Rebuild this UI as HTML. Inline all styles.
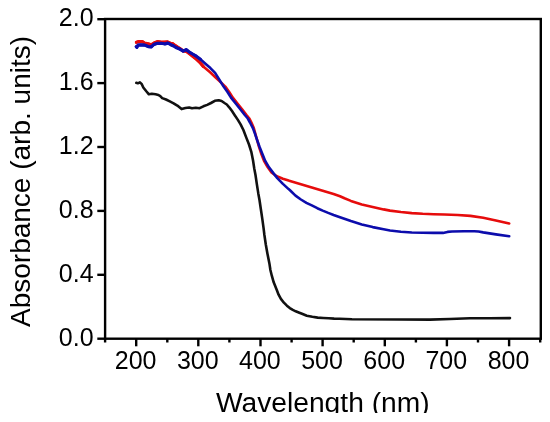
<!DOCTYPE html>
<html><head><meta charset="utf-8"><style>
html,body{margin:0;padding:0;background:#fff;}
body{width:550px;height:422px;overflow:hidden;}
svg{display:block;}
text{font-family:"Liberation Sans",Arial,sans-serif;fill:#000;}
</style></head><body>
<svg width="550" height="422" viewBox="0 0 550 422">
<defs><clipPath id="c"><rect x="0" y="0" width="550" height="413.0"/></clipPath></defs>
<rect width="550" height="422" fill="#fff"/>
<g fill="none" stroke-linejoin="round" stroke-linecap="round" stroke-width="2.6">
<polyline stroke="#111" points="136.3,82.8 137.8,83.3 139.9,82.3 141.8,84.2 143.3,87.5 146.1,91.0 148.9,94.3 151.8,93.8 155.6,94.3 158.4,95.0 160.3,96.2 162.2,98.1 166.0,99.5 169.8,101.4 173.6,103.3 177.3,105.6 181.6,109.1 185.4,108.0 189.2,107.5 192.0,108.2 195.8,107.7 199.6,108.2 203.4,106.3 207.2,104.9 211.0,103.0 214.8,100.8 218.7,100.2 221.6,101.0 224.5,103.0 226.8,104.5 229.2,107.3 232.0,111.1 234.9,115.4 237.7,119.6 240.6,124.4 243.4,130.0 246.3,137.6 249.0,144.5 251.3,151.8 253.0,160.3 254.3,168.8 255.5,175.0 256.8,183.9 258.3,193.4 259.5,200.0 260.9,209.5 262.3,218.9 263.6,228.4 264.4,235.0 265.8,244.5 267.5,253.9 269.4,263.4 270.4,270.0 271.8,275.7 273.7,282.3 276.8,290.0 278.6,294.7 280.9,298.9 283.9,302.7 286.9,305.7 289.8,308.1 292.8,309.9 295.7,311.3 298.7,312.5 302.0,313.8 306.8,315.7 312.3,316.8 317.7,317.6 323.2,318.0 328.6,318.3 334.1,318.6 339.5,318.7 352.0,319.3 400.0,319.5 430.0,319.6 450.0,319.0 470.0,318.3 490.0,318.2 510.0,318.1"/>
<polyline stroke="#e60c0c" points="136.4,42.3 138.7,41.6 142.4,41.6 144.5,43.0 148.2,43.8 151.1,44.8 154.0,43.0 157.6,41.6 161.3,42.2 164.9,42.0 167.6,41.9 170.8,43.4 172.5,43.5 175.0,45.4 177.6,47.1 180.0,48.7 183.2,50.9 186.5,51.4 190.5,54.4 195.5,58.4 200.0,62.6 203.3,66.6 210.4,72.5 215.1,77.0 219.2,80.8 225.3,86.6 229.2,92.0 232.8,97.6 237.3,103.2 242.1,109.2 246.5,115.0 249.4,118.5 251.4,122.5 253.8,128.1 255.5,134.3 257.1,140.0 259.0,146.8 261.4,154.0 264.0,160.9 267.6,167.0 271.5,172.4 274.6,174.8 278.1,176.8 282.9,178.7 288.6,180.6 290.0,181.0 300.9,184.3 311.8,187.5 322.7,190.8 333.6,194.1 340.0,196.3 344.5,198.3 350.9,200.9 361.8,204.4 372.7,206.9 383.6,209.4 390.0,210.6 400.9,212.0 411.8,213.1 422.7,213.8 433.6,214.2 444.5,214.5 457.7,215.0 470.4,215.9 483.2,217.8 495.9,220.4 509.2,223.5"/>
<polyline stroke="#e60c0c" stroke-width="3.2" points="136.4,42.3 138.7,41.6 142.4,41.6 144.5,43.0 148.2,43.8 151.1,44.8 154.0,43.0 157.6,41.6 161.3,42.2 164.9,42.0 167.6,41.9 170.8,43.4 172.5,43.5 175.0,45.4 177.6,47.1 180.0,48.7 183.2,50.9 186.5,51.4 190.5,54.4 195.5,58.4 200.0,62.6 203.3,66.6"/>
<polyline stroke="#0c0cac" points="136.2,46.6 136.9,47.3 138.0,45.1 140.9,44.8 144.5,45.1 148.2,46.6 151.1,47.0 154.0,44.4 157.6,43.3 161.3,43.3 164.9,44.0 167.9,43.1 170.8,44.7 173.7,46.0 176.6,47.8 179.5,48.9 183.2,51.1 186.1,49.6 189.0,51.8 192.6,54.0 196.3,56.2 200.4,59.2 205.7,64.0 210.4,68.1 215.1,72.9 219.2,79.5 223.6,86.6 227.5,92.0 231.0,97.6 235.5,103.2 240.3,109.2 244.8,115.0 247.8,118.5 250.0,122.5 252.9,128.1 255.2,134.3 257.1,140.0 259.5,146.8 262.4,154.0 265.2,160.9 269.0,167.3 273.2,172.9 277.3,178.1 282.9,183.9 288.6,189.1 290.0,190.3 295.5,195.6 300.9,199.5 306.4,202.8 311.8,205.4 317.3,208.2 322.7,210.6 328.2,212.9 333.6,215.0 340.0,217.3 350.9,221.1 361.8,224.4 372.7,227.1 383.6,229.2 390.0,230.5 400.9,231.8 411.8,232.5 422.7,232.8 433.6,232.9 443.0,232.9 447.5,231.9 452.0,231.5 464.1,231.2 474.3,231.2 478.5,231.5 483.2,232.4 495.9,234.4 509.2,236.3"/>
<polyline stroke="#0c0cac" stroke-width="3.2" points="136.2,46.6 136.9,47.3 138.0,45.1 140.9,44.8 144.5,45.1 148.2,46.6 151.1,47.0 154.0,44.4 157.6,43.3 161.3,43.3 164.9,44.0 167.9,43.1 170.8,44.7 173.7,46.0 176.6,47.8 179.5,48.9 183.2,51.1 186.1,49.6 189.0,51.8 192.6,54.0 196.3,56.2 200.4,59.2"/>
</g>
<g stroke="#000" stroke-width="2.4" fill="none">
<rect x="105.1" y="19.0" width="435.7" height="319.7"/>
<line x1="97.3" y1="338.7" x2="105.1" y2="338.7"/><line x1="97.3" y1="274.8" x2="105.1" y2="274.8"/><line x1="97.3" y1="210.9" x2="105.1" y2="210.9"/><line x1="97.3" y1="147.0" x2="105.1" y2="147.0"/><line x1="97.3" y1="83.1" x2="105.1" y2="83.1"/><line x1="97.3" y1="19.2" x2="105.1" y2="19.2"/><line x1="136.2" y1="338.7" x2="136.2" y2="346.3"/><line x1="198.3" y1="338.7" x2="198.3" y2="346.3"/><line x1="260.5" y1="338.7" x2="260.5" y2="346.3"/><line x1="322.6" y1="338.7" x2="322.6" y2="346.3"/><line x1="384.8" y1="338.7" x2="384.8" y2="346.3"/><line x1="446.9" y1="338.7" x2="446.9" y2="346.3"/><line x1="509.1" y1="338.7" x2="509.1" y2="346.3"/><line x1="105.1" y1="338.7" x2="105.1" y2="342.5"/><line x1="167.3" y1="338.7" x2="167.3" y2="342.5"/><line x1="229.4" y1="338.7" x2="229.4" y2="342.5"/><line x1="291.6" y1="338.7" x2="291.6" y2="342.5"/><line x1="353.7" y1="338.7" x2="353.7" y2="342.5"/><line x1="415.9" y1="338.7" x2="415.9" y2="342.5"/><line x1="478.0" y1="338.7" x2="478.0" y2="342.5"/><line x1="540.2" y1="338.7" x2="540.2" y2="342.5"/>
</g>
<g font-size="25">
<text x="93.6" y="345.7" text-anchor="end">0.0</text><text x="93.6" y="281.8" text-anchor="end">0.4</text><text x="93.6" y="217.9" text-anchor="end">0.8</text><text x="93.6" y="154.0" text-anchor="end">1.2</text><text x="93.6" y="90.1" text-anchor="end">1.6</text><text x="93.6" y="26.2" text-anchor="end">2.0</text>
<text x="135.6" y="368.9" text-anchor="middle">200</text><text x="197.8" y="368.9" text-anchor="middle">300</text><text x="259.9" y="368.9" text-anchor="middle">400</text><text x="322.0" y="368.9" text-anchor="middle">500</text><text x="384.2" y="368.9" text-anchor="middle">600</text><text x="446.3" y="368.9" text-anchor="middle">700</text><text x="508.5" y="368.9" text-anchor="middle">800</text>
</g>
<g font-size="28.2" clip-path="url(#c)">
<text x="216.0" y="412.2">Wavelength (nm)</text>
</g>
<text font-size="28" transform="translate(29.6,327.0) rotate(-90)">Absorbance (arb. units)</text>
</svg>
</body></html>
